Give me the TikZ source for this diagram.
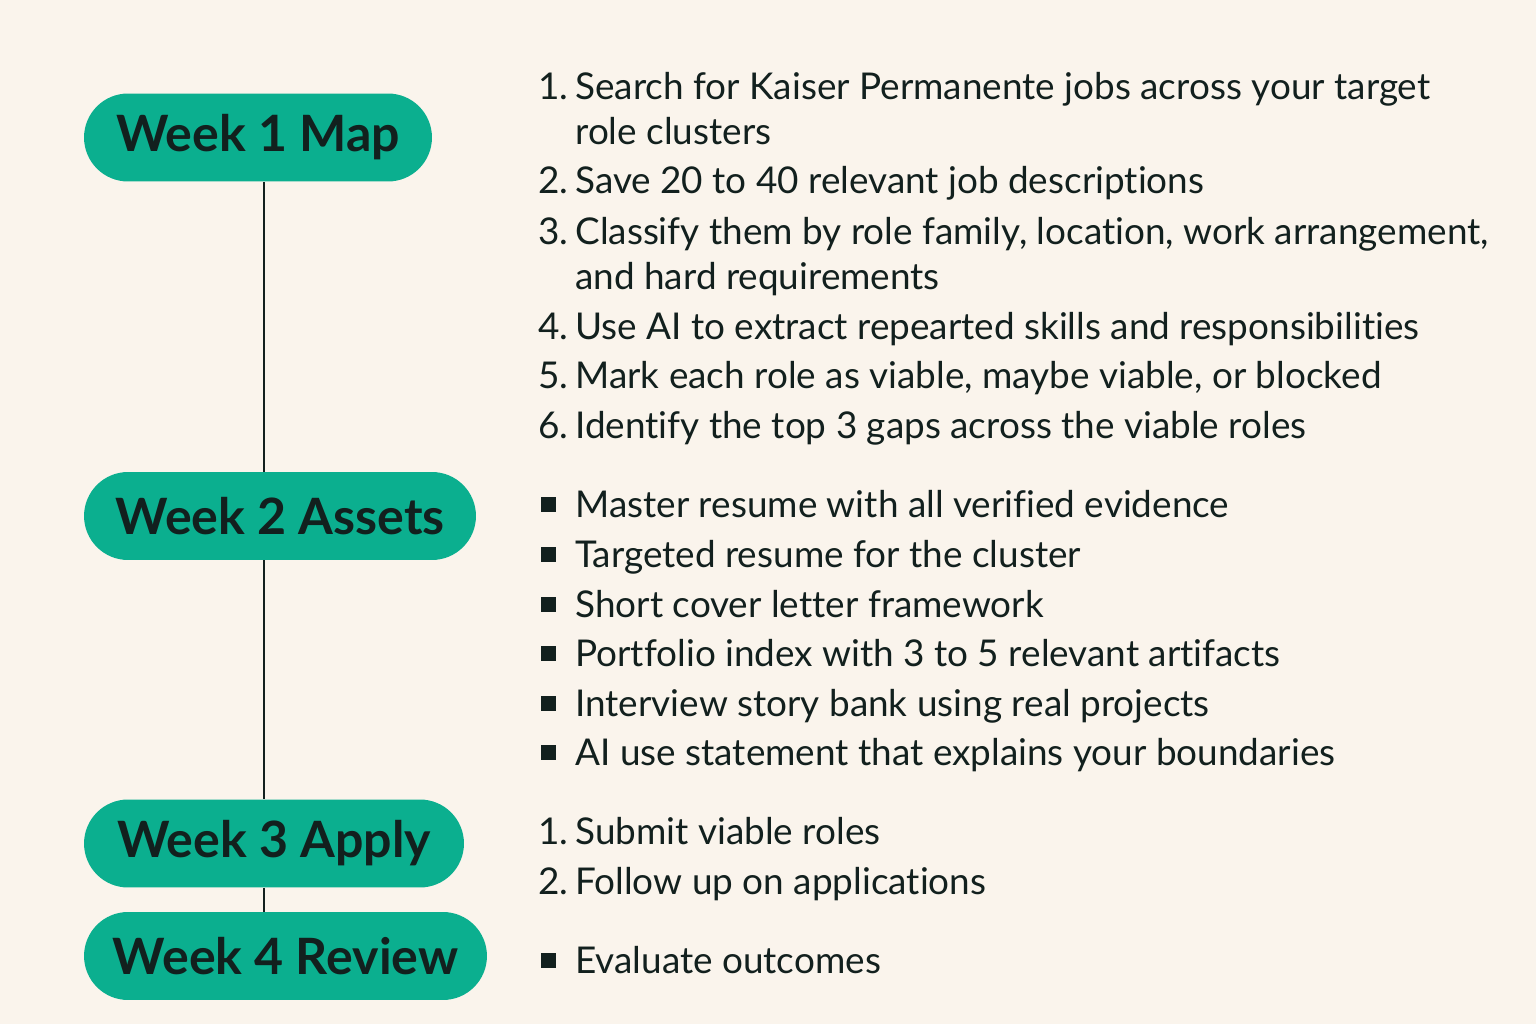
\documentclass[tikz,border=0pt]{standalone}
\usepackage{fontspec}
\setmainfont{Lato}[Ligatures=NoCommon]
\usetikzlibrary{shapes.misc}
\definecolor{paper}{HTML}{FAF4EC}
\definecolor{pill}{HTML}{0BAF8F}
\definecolor{ink}{HTML}{12201E}

\tikzstyle{week}=[rounded rectangle,fill=pill,text=ink,minimum height=1.76cm,inner sep=0pt,font=\bfseries\fontsize{28.5}{32}\selectfont]
\tikzstyle{item}=[anchor=base west,inner sep=0pt,text=ink,font=\fontsize{21}{25}\selectfont]
\tikzstyle{dot}=[rectangle,fill=ink,minimum size=0.3cm,inner sep=0pt]
\tikzstyle{spine}=[draw,ink,line width=1.2pt]

\begin{document}
\begin{tikzpicture}[x=0.02cm,y=-0.02cm]
	\fill[paper] (0,0) rectangle (1536,1024);
	% the weeks
	\coordinate (axis) at (264,0);
	\node[week,minimum width=6.96cm] (w1) at (258,137.5) {Week 1 Map};
	\node[week,minimum width=7.84cm] (w2) at (280,516) {Week 2 Assets};
	\node[week,minimum width=7.6cm] (w3) at (274,843.5) {Week 3 Apply};
	\node[week,minimum width=8.06cm] (w4) at (285.5,956) {Week 4 Review};
	% join them along one axis
	\foreach \a/\b in {w1/w2, w2/w3, w3/w4}
		\path[spine] (\a.south -| axis) -- (\b.north -| axis);
	% numbered steps
	\foreach \y/\n/\txt in {100/1./Search for Kaiser Permanente jobs across your target,
			194/2./Save 20 to 40 relevant job descriptions,
			244/3./{Classify them by role family, location, work arrangement,},
			339/4./Use AI to extract repearted skills and responsibilities,
			388/5./{Mark each role as viable, maybe viable, or blocked},
			438/6./Identify the top 3 gaps across the viable roles,
			844/1./Submit viable roles,
			894/2./Follow up on applications}
		{\node[item] (n\y) at (538,\y) {\n};
		\node[item] (t\y) at (575,\y) {\txt};}
	\node[item] (c145) at (575,145) {role clusters};
	\node[item] (c289) at (575,289) {and hard requirements};
	% bullet lists
	\foreach \y/\txt in {517/Master resume with all verified evidence,
			567/Targeted resume for the cluster,
			617/Short cover letter framework,
			666/Portfolio index with 3 to 5 relevant artifacts,
			716/Interview story bank using real projects,
			765/AI use statement that explains your boundaries,
			973/Evaluate outcomes}
		{\node[dot] (b\y) at (548.5,\y-13) {};
		\node[item] (t\y) at (575,\y) {\txt};}
\end{tikzpicture}
\end{document}
